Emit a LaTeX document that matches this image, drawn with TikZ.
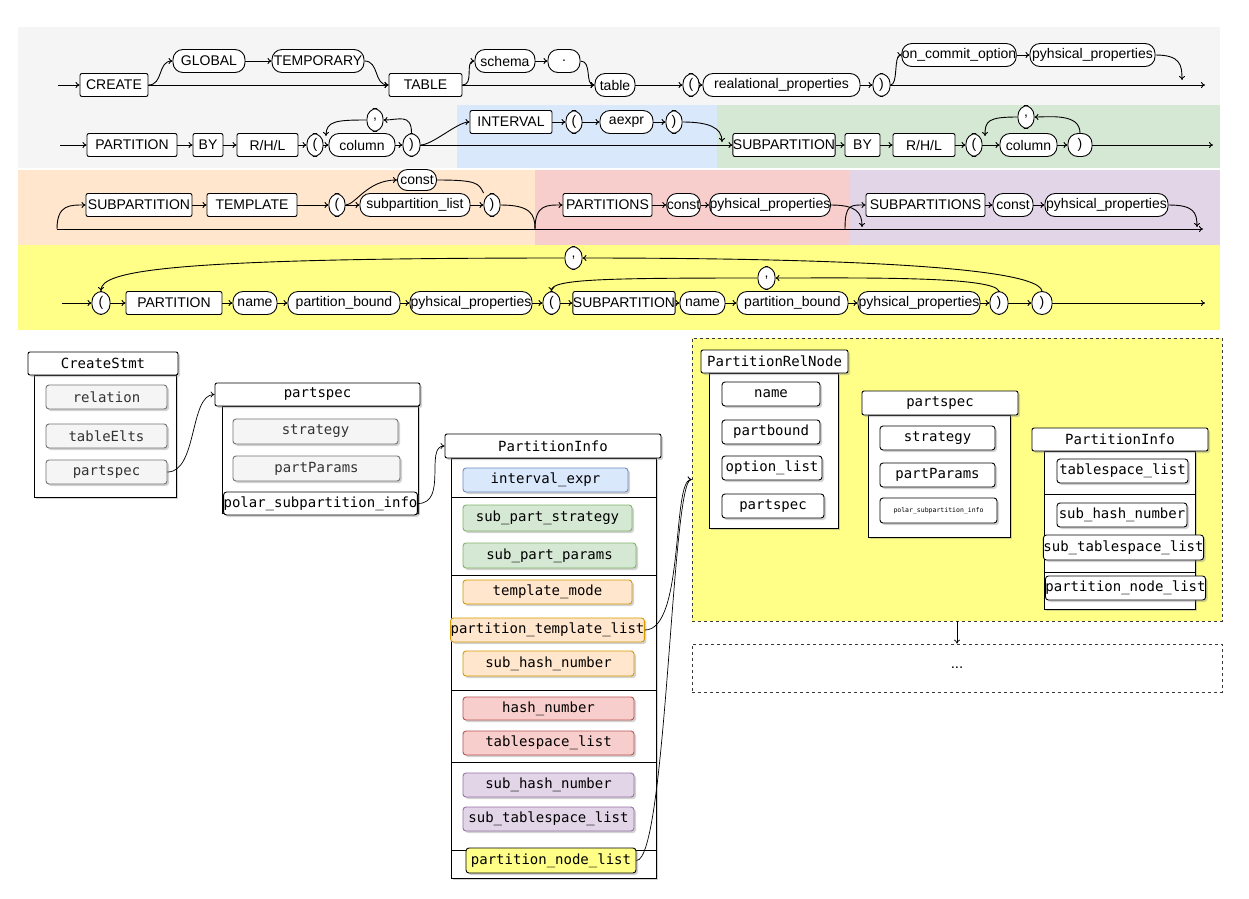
\documentclass[tikz,border=0pt]{standalone}
\usepackage{fontspec}
\setmainfont{Liberation Sans}
\newfontfamily\mono{DejaVu Sans Mono}
\usetikzlibrary{arrows.meta,shadows}
\definecolor{bgGray}{HTML}{F5F5F5}
\definecolor{bgBlue}{HTML}{DAE8FC}\definecolor{bdBlue}{HTML}{6C8EBF}
\definecolor{bgGreen}{HTML}{D5E8D4}\definecolor{bdGreen}{HTML}{82B366}
\definecolor{bgOrange}{HTML}{FFE6CC}\definecolor{bdOrange}{HTML}{D79B00}
\definecolor{bgRed}{HTML}{F8CECC}\definecolor{bdRed}{HTML}{B85450}
\definecolor{bgPurple}{HTML}{E1D5E7}\definecolor{bdPurple}{HTML}{9673A6}
\definecolor{bgYellow}{HTML}{FFFF88}\definecolor{bdYellow}{HTML}{36393D}
\newcommand\SN[6]{\node[#5,minimum width={#3-#2}] (#1) at ({(#2+#3)/2},#4) {#6};}
\newcommand\BX[7]{\node[#6,minimum width={#3-#2},minimum height={#5-#4}] (#1) at ({(#2+#3)/2},{(#4+#5)/2}) {#7};}
\begin{document}
\begin{tikzpicture}[x=1pt,y=-1pt,line width=0.9pt,
  kw/.style={draw,rounded corners=2,fill=white,minimum height=23,inner sep=0pt,font=\fontsize{14}{16}\selectfont},
  tm/.style={kw,rounded corners=10},
  ar/.style={-{To[length=4pt,width=6pt]}},
  band/.style={draw=none,inner sep=0pt},
  hdr/.style={draw,fill=white,rounded corners=2,inner sep=0pt,drop shadow={shadow xshift=2pt,shadow yshift=-2pt,opacity=.35},font=\mono\fontsize{14}{16}\selectfont},
  body/.style={draw,fill=white,inner sep=0pt,drop shadow={shadow xshift=2pt,shadow yshift=-2pt,opacity=.35}},
  it/.style={hdr,rounded corners=3},
  gi/.style={it,fill=bgGray,draw=black!55,text=black!80},
  bi/.style={it,fill=bgBlue,draw=bdBlue},
  ngi/.style={it,fill=bgGreen,draw=bdGreen},
  oi/.style={it,fill=bgOrange,draw=bdOrange},
  ri/.style={it,fill=bgRed,draw=bdRed},
  pi/.style={it,fill=bgPurple,draw=bdPurple},
  yi/.style={it,fill=bgYellow},
  wi/.style={it,fill=white}]
\useasboundingbox (0,0) rectangle (1249,898);
% bands
\BX{b1}{18}{1220}{27}{105}{band,fill=bgGray}{}
\BX{b2a}{18}{457}{105}{168}{band,fill=bgGray}{}
\BX{b2b}{457}{717}{105}{168}{band,fill=bgBlue}{}
\BX{b2c}{717}{1220}{105}{168}{band,fill=bgGreen}{}
\BX{b3a}{18}{535}{170}{245}{band,fill=bgOrange}{}
\BX{b3b}{535}{850}{170}{245}{band,fill=bgRed}{}
\BX{b3c}{850}{1220}{170}{245}{band,fill=bgPurple}{}
\BX{b4}{18}{1220}{245}{330}{band,fill=bgYellow}{}
% row 1
\SN{create}{80}{148}{85}{kw}{CREATE}
\SN{global}{173}{245}{61}{tm}{GLOBAL}
\SN{temp}{272}{364}{61}{tm}{TEMPORARY}
\SN{table}{389}{462}{85}{kw}{TABLE}
\SN{schema}{475}{535}{61}{tm}{schema}
\SN{dot}{548}{580}{61}{tm}{.}
\SN{tbl}{595}{635}{85}{tm}{table}
\SN{lpa}{683}{699}{85}{tm}{(}
\SN{relp}{703}{860}{85}{tm}{realational\_properties}
\SN{rpa}{873}{890}{85}{tm}{)}
\SN{oncommit}{903}{1015}{55}{tm}{on\_commit\_option}
\SN{physa}{1030}{1155}{55}{tm}{pyhsical\_properties}
\coordinate (s1) at (58,85);\coordinate (e1) at (1205,85);\coordinate (d1) at (1182,80);
\draw[ar] (s1) -- (create);
\draw[ar] (create) -- (table);
\draw[ar] (create.east) .. controls +(15,0) and +(-15,0) .. (global.west);
\draw[ar] (global) -- (temp);
\draw[ar] (temp.east) .. controls +(15,0) and +(-15,0) .. (table.west);
\draw[ar] (table) -- (tbl);
\draw[ar] (table.east) .. controls +(12,0) and +(-10,0) .. (schema.west);
\draw[ar] (schema) -- (dot);
\draw[ar] (dot.east) .. controls +(12,0) and +(-10,0) .. (tbl.west);
\draw[ar] (tbl) -- (lpa);
\draw[ar] (lpa) -- (relp);
\draw[ar] (relp) -- (rpa);
\draw[ar] (rpa) -- (e1);
\draw[ar] (rpa.east) .. controls +(8,0) and +(-8,0) .. (oncommit.west);
\draw[ar] (oncommit) -- (physa);
\draw[ar] (physa.east) .. controls +(25,0) and +(0,-15) .. (d1);
% row 2
\SN{part}{87}{177}{145}{kw}{PARTITION}
\SN{by}{193}{223}{145}{kw}{BY}
\SN{rhl}{237}{298}{145}{kw}{R/H/L}
\SN{lpb}{307}{323}{145}{tm}{(}
\SN{col}{329}{395}{145}{tm}{column}
\SN{rpb}{403}{420}{145}{tm}{)}
\SN{comb}{367}{383}{120}{tm}{,}
\SN{int}{470}{552}{122}{kw}{INTERVAL}
\SN{lpc}{566}{582}{122}{tm}{(}
\SN{aexpr}{600}{653}{122}{tm}{aexpr}
\SN{rpc}{666}{682}{122}{tm}{)}
\SN{subp}{736}{832}{145}{kw}{SUBPARTITION}
\SN{byb}{845}{880}{145}{kw}{BY}
\SN{rhlb}{893}{955}{145}{kw}{R/H/L}
\SN{lpd}{966}{982}{145}{tm}{(}
\SN{colb}{1000}{1057}{145}{tm}{column}
\SN{rpd}{1068}{1092}{145}{tm}{)}
\SN{comc}{1018}{1034}{117}{tm}{,}
\coordinate (s2) at (60,145);\coordinate (e2) at (1213,145);\coordinate (d2) at (722,142);
\draw[ar] (s2) -- (part);\draw[ar] (part) -- (by);\draw[ar] (by) -- (rhl);
\draw[ar] (rhl) -- (lpb);\draw[ar] (lpb) -- (col);\draw[ar] (col) -- (rpb);
\draw[ar] (rpb) -- (subp);
\draw[ar] (rpb.north) .. controls +(0,-20) and +(15,0) .. (comb.east);
\draw[ar] (comb.west) .. controls +(-30,0) and +(0,-15) .. (326,136);
\draw[ar] (rpb.east) .. controls +(12,0) and +(-12,0) .. (int.west);
\draw[ar] (int) -- (lpc);\draw[ar] (lpc) -- (aexpr);\draw[ar] (aexpr) -- (rpc);
\draw[ar] (rpc.east) .. controls +(25,0) and +(0,-15) .. (d2);
\draw[ar] (subp) -- (byb);\draw[ar] (byb) -- (rhlb);\draw[ar] (rhlb) -- (lpd);
\draw[ar] (lpd) -- (colb);\draw[ar] (colb) -- (rpd);\draw[ar] (rpd) -- (e2);
\draw[ar] (rpd.north) .. controls +(0,-20) and +(15,0) .. (comc.east);
\draw[ar] (comc.west) .. controls +(-30,0) and +(0,-15) .. (985,136);
% row 3
\SN{subt}{86}{192}{205}{kw}{SUBPARTITION}
\SN{templ}{207}{297}{205}{kw}{TEMPLATE}
\SN{lpe}{329}{345}{205}{tm}{(}
\SN{splist}{360}{470}{205}{tm}{subpartition\_list}
\node[tm,minimum width=39,minimum height=21] (consta) at (417,180) {const};
\SN{rpe}{484}{500}{205}{tm}{)}
\SN{parts}{563}{652}{205}{kw}{PARTITIONS}
\SN{constb}{667}{700}{205}{tm}{const}
\SN{physb}{710}{830}{205}{tm}{pyhsical\_properties}
\SN{subps}{866}{985}{205}{kw}{SUBPARTITIONS}
\SN{constc}{993}{1033}{205}{tm}{const}
\SN{physc}{1045}{1168}{205}{tm}{pyhsical\_properties}
\coordinate (s3) at (57,229);\coordinate (e3) at (1203,229);
\coordinate (m3a) at (535,229);\coordinate (m3b) at (845,229);
\coordinate (d3a) at (862,227);\coordinate (d3b) at (1197,227);
\draw[ar] (s3) -- (e3);
\draw[ar] (s3) .. controls +(0,-25) and +(-15,0) .. (subt.west);
\draw[ar] (subt) -- (templ);\draw[ar] (templ) -- (lpe);\draw[ar] (lpe) -- (splist);
\draw[ar] (splist) -- (rpe);
\draw[ar] (lpe.east) .. controls +(10,0) and +(-30,0) .. (consta.west);
\draw (consta.east) .. controls +(40,0) and +(-5,-10) .. (rpe.north west);
\draw (rpe.east) .. controls +(30,0) and +(0,-15) .. (m3a);
\draw[ar] (m3a) .. controls +(0,-25) and +(-15,0) .. (parts.west);
\draw[ar] (parts) -- (constb);\draw[ar] (constb) -- (physb);
\draw[ar] (physb.east) .. controls +(25,0) and +(0,-15) .. (d3a);
\draw[ar] (m3b) .. controls +(0,-25) and +(-15,0) .. (subps.west);
\draw[ar] (subps) -- (constc);\draw[ar] (constc) -- (physc);
\draw[ar] (physc.east) .. controls +(25,0) and +(0,-15) .. (d3b);
% row 4
\SN{lpf}{92}{110}{303}{tm}{(}
\SN{partb}{126}{222}{303}{kw}{PARTITION}
\SN{namea}{233}{277}{303}{tm}{name}
\SN{pba}{288}{400}{303}{tm}{partition\_bound}
\SN{physd}{410}{532}{303}{tm}{pyhsical\_properties}
\SN{lpg}{543}{560}{303}{tm}{(}
\SN{subpb}{573}{675}{303}{kw}{SUBPARTITION}
\SN{nameb}{680}{725}{303}{tm}{name}
\SN{pbb}{737}{848}{303}{tm}{partition\_bound}
\SN{physe}{858}{980}{303}{tm}{pyhsical\_properties}
\SN{rpf}{990}{1008}{303}{tm}{)}
\SN{rpg}{1032}{1052}{303}{tm}{)}
\SN{comd}{565}{582}{258}{tm}{,}
\SN{come}{758}{775}{278}{tm}{,}
\coordinate (s4) at (62,303);\coordinate (e4) at (1205,303);
\draw[ar] (s4) -- (lpf);\draw[ar] (lpf) -- (partb);\draw[ar] (partb) -- (namea);
\draw[ar] (namea) -- (pba);\draw[ar] (pba) -- (physd);\draw[ar] (physd) -- (lpg);
\draw[ar] (lpg) -- (subpb);\draw[ar] (subpb) -- (nameb);\draw[ar] (nameb) -- (pbb);
\draw[ar] (pbb) -- (physe);\draw[ar] (physe) -- (rpf);\draw[ar] (rpf) -- (rpg);
\draw[ar] (rpg) -- (e4);
\draw[ar] (rpg.north) .. controls +(-5,-30) and +(150,0) .. (comd.east);
\draw[ar] (comd.west) .. controls +(-400,0) and +(0,-20) .. (lpf.north);
\draw[ar] (rpf.north) .. controls +(-5,-15) and +(80,0) .. (come.east);
\draw[ar] (come.west) .. controls +(-150,0) and +(0,-12) .. (lpg.north);
% CreateStmt
\BX{csb}{34}{176}{375}{497}{body}{}
\BX{csh}{28}{178}{352}{375}{hdr}{CreateStmt}
\BX{csrel}{46}{167}{385}{409}{gi}{relation}
\BX{cste}{46}{167}{424}{448}{gi}{tableElts}
\BX{csps}{46}{167}{460}{484}{gi}{partspec}
% partspec
\BX{psb}{222}{418}{406}{513}{body}{}
\BX{psh}{215}{420}{383}{406}{hdr}{partspec}
\BX{psst}{233}{398}{419}{444}{gi}{strategy}
\BX{pspp}{233}{400}{456}{481}{gi}{partParams}
\BX{pspol}{233}{408}{492}{515}{wi}{polar\_subpartition\_info}
% PartitionInfo
\BX{pib}{451}{656}{458}{878}{body}{}
\BX{pih}{445}{661}{434}{458}{hdr}{PartitionInfo}
\foreach \yy in {497,575,690,762,850} \draw (451,\yy) -- (656,\yy);
\BX{pie}{463}{628}{468}{492}{bi}{interval\_expr}
\BX{pis}{463}{632}{505}{531}{ngi}{sub\_part\_strategy}
\BX{pip}{463}{636}{543}{568}{ngi}{sub\_part\_params}
\BX{pitm}{463}{632}{580}{604}{oi}{template\_mode}
\BX{pitl}{463}{632}{618}{642}{oi}{partition\_template\_list}
\BX{pishn}{463}{634}{651}{676}{oi}{sub\_hash\_number}
\BX{pihn}{463}{634}{697}{720}{ri}{hash\_number}
\BX{pitsl}{463}{634}{731}{755}{ri}{tablespace\_list}
\BX{pishn2}{463}{634}{773}{797}{pi}{sub\_hash\_number}
\BX{pistl}{463}{634}{807}{831}{pi}{sub\_tablespace\_list}
\BX{pinl}{466}{636}{848}{873}{yi}{partition\_node\_list}
% yellow container
\BX{yb}{692}{1222}{338}{621}{draw=bdYellow,dashed,line width=0.7pt,fill=bgYellow,inner sep=0pt}{}
\BX{dots}{692}{1222}{644}{692}{draw=bdYellow,dashed,line width=0.7pt,fill=white,inner sep=0pt,font=\fontsize{15}{16}\selectfont}{...}
\BX{rnb}{709}{838}{373}{528}{body}{}
\BX{rnh}{701}{848}{350}{373}{hdr}{PartitionRelNode}
\BX{rnn}{722}{820}{382}{406}{wi}{name}
\BX{rnpb}{722}{820}{420}{444}{wi}{partbound}
\BX{rnol}{722}{822}{456}{480}{wi}{option\_list}
\BX{rnps}{722}{824}{494}{518}{wi}{partspec}
\BX{ps2b}{868}{1010}{415}{537}{body}{}
\BX{ps2h}{862}{1018}{391}{415}{hdr}{partspec}
\BX{ps2st}{880}{995}{426}{450}{wi}{strategy}
\BX{ps2pp}{880}{995}{463}{487}{wi}{partParams}
\BX{ps2pol}{880}{997}{498}{523}{wi,font=\mono\fontsize{6.5}{7}\selectfont}{polar\_subpartition\_info}
\BX{pi2b}{1044}{1195}{451}{609}{body}{}
\BX{pi2h}{1032}{1208}{428}{451}{hdr}{PartitionInfo}
\draw (1044,494) -- (1195,494);\draw (1044,572) -- (1195,572);
\BX{pi2t}{1057}{1188}{459}{483}{wi}{tablespace\_list}
\BX{pi2s}{1057}{1187}{503}{527}{wi}{sub\_hash\_number}
\BX{pi2st}{1057}{1190}{535}{560}{wi}{sub\_tablespace\_list}
\BX{pi2nl}{1059}{1192}{576}{600}{wi}{partition\_node\_list}
% connectors
\draw[ar,line width=0.7pt] (csps.east) .. controls +(30,0) and +(-25,0) .. (psh.west);
\draw[ar,line width=0.7pt] (pspol.east) .. controls +(30,0) and +(-20,0) .. (pih.west);
\draw[ar,line width=0.7pt] (pitl.east) .. controls +(40,0) and +(-20,0) .. (yb.west);
\draw[ar,line width=0.7pt] (pinl.east) .. controls +(30,0) and +(-20,0) .. (yb.west);
\draw[ar,line width=0.7pt] (yb.south) -- (dots.north);
\end{tikzpicture}
\end{document}
